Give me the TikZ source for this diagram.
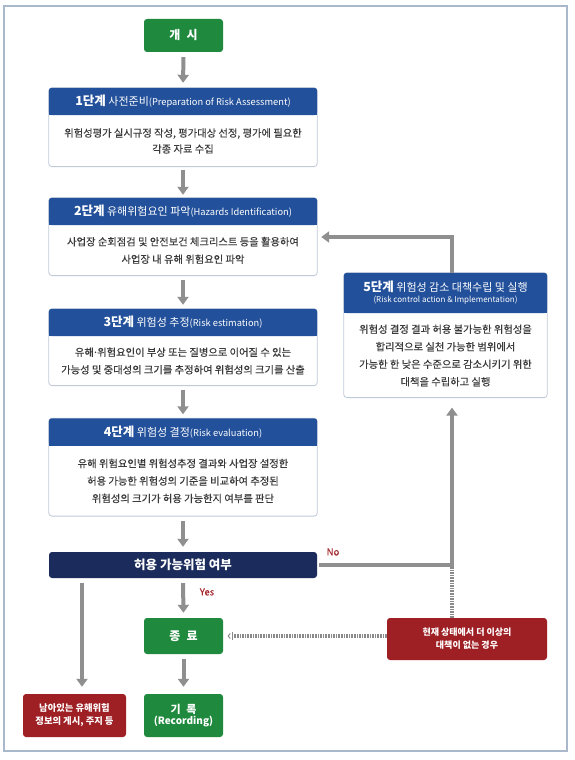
\documentclass[tikz,border=0pt]{standalone}
\usepackage{fontspec}
\setmainfont{Noto Sans CJK KR}
\newfontfamily\bodyfnt{Noto Sans CJK KR}[FakeBold=0.25]
\usetikzlibrary{arrows.meta,backgrounds,calc}
\definecolor{kgreen}{HTML}{1F8A3E}
\definecolor{hdrblue}{HTML}{22509A}
\definecolor{knavy}{HTML}{1B2B5C}
\definecolor{kred}{HTML}{9E1F24}
\definecolor{agray}{HTML}{8F8F8F}
\definecolor{dgray}{HTML}{8A8A8A}
\definecolor{framecol}{HTML}{AAB8CC}
\definecolor{boxline}{HTML}{C0CAD8}
\definecolor{txtgray}{HTML}{3A3A3A}
\definecolor{lblred}{HTML}{A52A2F}
\newcommand\stnum[1]{{\bfseries\fontsize{12.5}{14}\selectfont #1}}
\newcommand\engtxt[1]{{\fontsize{9.3}{11}\selectfont #1}}
\newcommand\stepbg[2]{%
  \draw[boxline, fill=white, line width=0.8pt, rounded corners=3pt] (#1.north west) rectangle (#2.south east);
  \fill[hdrblue, rounded corners=3pt] (#1.north west) rectangle (#1.south east);
  \fill[hdrblue] ([yshift=4pt]#1.south west) rectangle (#1.south east);
}
\tikzset{
  gbox/.style={fill=kgreen, rounded corners=3pt, minimum width=79pt, text=white, inner sep=0pt, align=center, font=\bfseries\fontsize{12}{14}\selectfont},
  rbox/.style={fill=kred, rounded corners=3pt, text=white, inner sep=0pt, align=center, font=\bfseries\fontsize{9.3}{13}\selectfont},
  hdr/.style={minimum height=27pt, inner sep=0pt, text=white, align=center, font=\fontsize{11}{12}\selectfont},
  bodyt/.style={inner sep=0pt, text=txtgray, align=center, font=\bodyfnt\fontsize{10.3}{17.5}\selectfont},
  arr/.style={draw=agray, line width=4pt, -{Triangle[width=11pt,length=8pt]}},
  dots/.style={draw=dgray, line width=4.5pt, dash pattern=on 1.6pt off 1pt},
  lbl/.style={text=lblred, inner sep=0pt, font=\bodyfnt\fontsize{9.5}{11}\selectfont},
}
\begin{document}
\begin{tikzpicture}[x=1pt,y=-1pt]
\useasboundingbox (0,0) rectangle (574,760);
% start
\node[gbox, minimum height=33pt] (start) at (183.5,35.5) {개\hspace{0.5em}시};
% step 1
\node[hdr, minimum width=268pt] (s1h) at (183,101.5) {\stnum{1단계} 사전준비\engtxt{(Preparation of Risk Assessment)}};
\node[bodyt, minimum width=268pt, minimum height=51pt, anchor=north, font=\bodyfnt\fontsize{10.3}{16}\selectfont] (s1b) at (s1h.south) {위험성평가 실시규정 작성, 평가대상 선정, 평가에 필요한\\각종 자료 수집};
% step 2
\node[hdr, minimum width=268pt] (s2h) at (183,211.5) {\stnum{2단계} 유해위험요인 파악\engtxt{(Hazards Identification)}};
\node[bodyt, minimum width=268pt, minimum height=50pt, anchor=north] (s2b) at (s2h.south) {사업장 순회점검 및 안전보건 체크리스트 등을 활용하여\\사업장 내 유해 위험요인 파악};
% step 3
\node[hdr, minimum width=268pt] (s3h) at (183,322.5) {\stnum{3단계} 위험성 추정\engtxt{(Risk estimation)}};
\node[bodyt, minimum width=268pt, minimum height=49pt, anchor=north] (s3b) at (s3h.south) {유해\kern-0.12em·\kern-0.12em위험요인이 부상 또는 질병으로 이어질 수 있는\\가능성 및 중대성의 크기를 추정하여 위험성의 크기를 산출};
% step 4
\node[hdr, minimum width=268pt] (s4h) at (183,432) {\stnum{4단계} 위험성 결정\engtxt{(Risk evaluation)}};
\node[bodyt, minimum width=268pt, minimum height=70pt, anchor=north] (s4b) at (s4h.south) {유해 위험요인별 위험성추정 결과와 사업장 설정한\\허용 가능한 위험성의 기준을 비교하여 추정된\\위험성의 크기가 허용 가능한지 여부를 판단};
% step 5
\node[hdr, minimum width=203pt, minimum height=40pt] (s5h) at (445.5,293) {\stnum{5단계} 위험성 감소 대책수립 및 실행\\[-1pt]{\fontsize{8}{9}\selectfont(Risk control action \& Implementation)}};
\node[bodyt, minimum width=203pt, minimum height=84pt, anchor=north] (s5b) at (s5h.south) {위험성 결정 결과 허용 불가능한 위험성을\\합리적으로 실천 가능한 범위에서\\가능한 한 낮은 수준으로 감소시키기 위한\\대책을 수립하고 실행};
% decision
\node[fill=knavy, rounded corners=3pt, minimum width=268pt, minimum height=26pt, inner sep=0pt, text=white, font=\bfseries\fontsize{12.5}{14}\selectfont] (hy) at (183,565) {허용 가능위험 여부};
% end, record
\node[gbox, minimum height=36pt] (end) at (183.5,636) {종\hspace{0.5em}료};
\node[gbox, minimum height=43pt, font=\bfseries\fontsize{11}{13}\selectfont] (rec) at (183.5,715.5) {기\hspace{0.5em}록\\[-2pt]{\fontsize{10}{12}\selectfont(Recording)}};
% red boxes
\node[rbox, minimum width=103pt, minimum height=43pt] (rem) at (74.5,715.5) {남아있는 유해위험\\정보의 게시, 주지 등};
\node[rbox, minimum width=160pt, minimum height=42pt, font=\bfseries\fontsize{9}{13}\selectfont] (rb) at (467,639) {현재 상태에서 더 이상의\\대책이 없는 경우};
% labels
\node[lbl] (no) at (333,552) {No};
\node[lbl] (yes) at (207,592) {Yes};
% backgrounds
\begin{scope}[on background layer]
  \fill[white] (0,0) rectangle (574,760);
  \draw[framecol, line width=1.5pt] (4,6) rectangle (567,751);
  \stepbg{s1h}{s1b}
  \stepbg{s2h}{s2b}
  \stepbg{s3h}{s3b}
  \stepbg{s4h}{s4b}
  \stepbg{s5h}{s5b}
\end{scope}
% arrows
\draw[arr, shorten <=5pt, shorten >=5pt] (start.south) -- (s1h.north);
\draw[arr, shorten <=3pt, shorten >=3pt] (s1b.south) -- (s2h.north);
\draw[arr, shorten <=4pt, shorten >=4pt] (s2b.south) -- (s3h.north);
\draw[arr, shorten <=4pt, shorten >=4pt] (s3b.south) -- (s4h.north);
\draw[arr, shorten <=5pt, shorten >=5pt] (s4b.south) -- (hy.north);
\draw[arr, shorten <=5pt, shorten >=5pt] (hy.south) -- (end.north);
\draw[arr, shorten <=5pt, shorten >=7pt] (end.south) -- (rec.north);
\coordinate (lx) at (82,0);
\draw[arr, shorten <=5pt, shorten >=7pt] (hy.south -| lx) -- (rem.north -| lx);
\coordinate (fx) at (452,237);
\draw[arr, shorten >=4pt] (s5h.north -| fx) -- (fx) -- (fx -| s2b.east);
\draw[arr, shorten <=2pt, shorten >=10pt] (hy.east) -| (s5b.south -| fx);
\draw[dots] ([yshift=-2pt]hy.east -| fx) -- (rb.north -| fx);
\draw[dots, shorten >=9pt] (rb.west |- end) -- (end.east);
\draw[dgray, line width=1pt] ([xshift=9pt,yshift=-4pt]end.east) -- ([xshift=9pt,yshift=4pt]end.east);
\draw[dgray, line width=1pt] ([xshift=7pt,yshift=-2.5pt]end.east) -- ([xshift=5pt]end.east) -- ([xshift=7pt,yshift=2.5pt]end.east);
\end{tikzpicture}
\end{document}
